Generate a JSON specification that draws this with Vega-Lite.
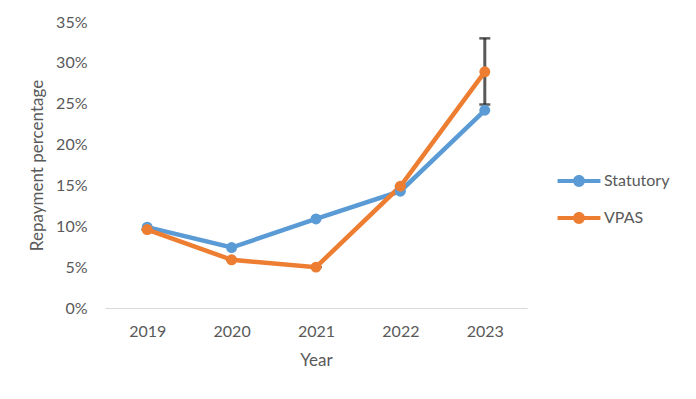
{
  "$schema": "https://vega.github.io/schema/vega-lite/v6.json",
  "width": 422,
  "height": 286,
  "autosize": {"type": "none"},
  "padding": {"left": 105, "top": 22, "right": 169, "bottom": 91},
  "background": "white",
  "config": {
    "view": {"stroke": null},
    "font": "Lato",
    "axis": {"labelFont": "Lato", "titleFont": "Lato", "labelColor": "#595959", "titleColor": "#595959", "labelFontSize": 16, "titleFontSize": 17, "titleFontWeight": "normal", "grid": false, "ticks": false},
    "legend": {"labelFont": "Lato", "labelFontSize": 16, "labelColor": "#595959"}
  },
  "datasets": {
    "lines": [
      {"Year": "2019", "Series": "Statutory", "Value": 0.099},
      {"Year": "2020", "Series": "Statutory", "Value": 0.074},
      {"Year": "2021", "Series": "Statutory", "Value": 0.109},
      {"Year": "2022", "Series": "Statutory", "Value": 0.143},
      {"Year": "2023", "Series": "Statutory", "Value": 0.242},
      {"Year": "2019", "Series": "VPAS", "Value": 0.096},
      {"Year": "2020", "Series": "VPAS", "Value": 0.059},
      {"Year": "2021", "Series": "VPAS", "Value": 0.050},
      {"Year": "2022", "Series": "VPAS", "Value": 0.149},
      {"Year": "2023", "Series": "VPAS", "Value": 0.289}
    ],
    "errors": [
      {"Year": "2019", "Lo": 0.096, "Hi": 0.096},
      {"Year": "2020", "Lo": 0.059, "Hi": 0.059},
      {"Year": "2021", "Lo": 0.050, "Hi": 0.050},
      {"Year": "2022", "Lo": 0.149, "Hi": 0.149},
      {"Year": "2023", "Lo": 0.249, "Hi": 0.330}
    ]
  },
  "layer": [
    {
      "data": {"name": "errors"},
      "mark": {"type": "rule", "color": "#595959", "strokeWidth": 3},
      "encoding": {
        "x": {"field": "Year", "type": "ordinal"},
        "y": {"field": "Lo", "type": "quantitative"},
        "y2": {"field": "Hi"}
      }
    },
    {
      "data": {"name": "errors"},
      "mark": {"type": "tick", "color": "#1a1a1a", "orient": "horizontal", "size": 11, "thickness": 2.5},
      "encoding": {
        "x": {"field": "Year", "type": "ordinal"},
        "y": {"field": "Lo", "type": "quantitative"}
      }
    },
    {
      "data": {"name": "errors"},
      "mark": {"type": "tick", "color": "#1a1a1a", "orient": "horizontal", "size": 11, "thickness": 2.5},
      "encoding": {
        "x": {"field": "Year", "type": "ordinal"},
        "y": {"field": "Hi", "type": "quantitative"}
      }
    },
    {
      "data": {"name": "lines"},
      "mark": {"type": "line", "strokeWidth": 4.5, "point": {"filled": true, "size": 120, "opacity": 1}},
      "encoding": {
        "x": {"field": "Year", "type": "ordinal"},
        "y": {"field": "Value", "type": "quantitative"},
        "color": {
          "field": "Series", "type": "nominal",
          "scale": {"domain": ["Statutory", "VPAS"], "range": ["#5B9BD5", "#ED7D31"]},
          "legend": {
            "title": null,
            "orient": "none",
            "legendX": 463,
            "legendY": 148,
            "rowPadding": 18,
            "labelOffset": 14,
            "symbolType": "M-2,-0.19L2,-0.19L2,0.19L-2,0.19Z M0.55,0A0.55,0.55 0 1,1 -0.55,0A0.55,0.55 0 1,1 0.55,0Z",
            "symbolSize": 460,
            "symbolStrokeWidth": 0,
            "symbolOpacity": 1
          }
        }
      }
    }
  ],
  "resolve": {"scale": {"y": "shared", "x": "shared"}},
  "encoding": {
    "x": {
      "field": "Year", "type": "ordinal",
      "scale": {"type": "point", "padding": 0.5},
      "axis": {"title": "Year", "labelAngle": 0, "labelPadding": 15, "titlePadding": 13, "domainColor": "#D9D9D9", "domainWidth": 1}
    },
    "y": {
      "type": "quantitative",
      "scale": {"domain": [0, 0.35], "nice": false},
      "axis": {"title": "Repayment percentage", "format": ".0%", "values": [0, 0.05, 0.1, 0.15, 0.2, 0.25, 0.3, 0.35], "domain": false, "labelPadding": 18, "titlePadding": 9}
    }
  }
}
